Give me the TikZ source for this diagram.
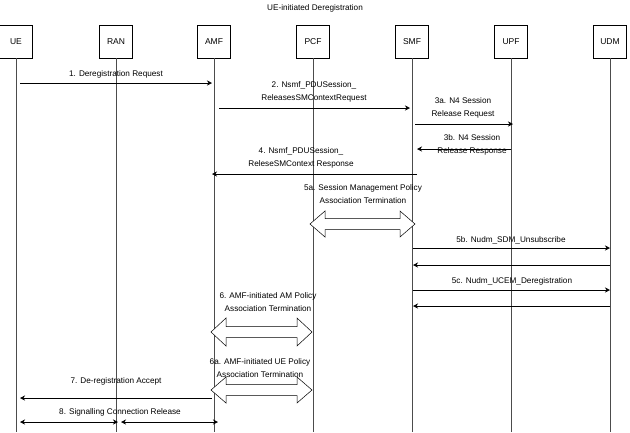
\documentclass[tikz,border=0pt]{standalone}
\usepackage{fontspec}
\setmainfont{Liberation Sans}
\usetikzlibrary{arrows.meta}
\begin{document}
\begin{tikzpicture}[x=1pt,y=-1pt,
  ent/.style={draw, minimum width=33pt, minimum height=33pt, inner sep=0, font=\fontsize{8.5}{10}\selectfont},
  life/.style={draw=black!70, line width=0.5pt},
  msg/.style={-{Stealth[length=5pt,width=5pt]}, line width=0.5pt},
  dbl/.style={{Stealth[length=5pt,width=5pt]}-{Stealth[length=5pt,width=5pt]}, line width=0.5pt},
  lbl/.style={font=\fontsize{8.2}{12.5}\selectfont, align=center, inner sep=0},
  blk/.style={draw, fill=white, line width=0.5pt}]
\useasboundingbox (0,0) rectangle (630,432);
\node[lbl] (title) at (315,8) {UE-initiated Deregistration};
\foreach \n/\x in {UE/16,RAN/116,AMF/214,PCF/313,SMF/412,UPF/511,UDM/610}{
  \node[ent] (\n) at (\x,41.5) {\n};
  \coordinate (\n b) at (\x,432);
  \draw[life] (\n) -- (\n b);
}
% 1
\coordinate (a1s) at (20,83); \coordinate (a1e) at (212,83);
\draw[msg] (a1s) -- (a1e);
\node[lbl] (l1) at (116,74) {1. Deregistration Request};
% 2
\coordinate (a2s) at (219,108); \coordinate (a2e) at (410,108);
\draw[msg] (a2s) -- (a2e);
\node[lbl] (l2) at (314,92) {2. Nsmf\_PDUSession\_\\ReleasesSMContextRequest};
% 3a
\coordinate (a3s) at (415,124); \coordinate (a3e) at (513,124);
\draw[msg] (a3s) -- (a3e);
\node[lbl] (l3) at (463,108) {3a. N4 Session\\Release Request};
% 3b
\coordinate (a3bs) at (511,149); \coordinate (a3be) at (417,149);
\draw[msg] (a3bs) -- (a3be);
\node[lbl] (l3b) at (472,145) {3b. N4 Session\\Release Response};
% 4
\coordinate (a4s) at (417,174); \coordinate (a4e) at (212,174);
\draw[msg] (a4s) -- (a4e);
\node[lbl] (l4) at (301,158) {4. Nsmf\_PDUSession\_\\ReleseSMContext Response};
% 5a
\node[lbl] (l5a) at (363,194) {5a. Session Management Policy\\Association Termination};
\draw[blk] (310,224) -- (325,211) -- (325,218.5) -- (400,218.5) -- (400,211) -- (415,224) -- (400,237) -- (400,229.5) -- (325,229.5) -- (325,237) -- cycle;
% 5b
\coordinate (a5s) at (413,248); \coordinate (a5e) at (610,248);
\draw[msg] (a5s) -- (a5e);
\node[lbl] (l5b) at (511,240) {5b. Nudm\_SDM\_Unsubscribe};
\coordinate (r5s) at (610,265); \coordinate (r5e) at (413,265);
\draw[msg] (r5s) -- (r5e);
% 5c
\coordinate (a5cs) at (413,290); \coordinate (a5ce) at (610,290);
\draw[msg] (a5cs) -- (a5ce);
\node[lbl] (l5c) at (512,281) {5c. Nudm\_UCEM\_Deregistration};
\coordinate (r5cs) at (610,306); \coordinate (r5ce) at (413,306);
\draw[msg] (r5cs) -- (r5ce);
% 6
\node[lbl] (l6) at (268,302) {6. AMF-initiated AM Policy\\Association Termination};
\draw[blk] (211,332) -- (226,318) -- (226,326.5) -- (297,326.5) -- (297,318) -- (312,332) -- (297,346) -- (297,337.5) -- (226,337.5) -- (226,346) -- cycle;
% 6a
\node[lbl] (l6a) at (260,368) {6a. AMF-initiated UE Policy\\Association Termination};
\draw[blk] (211,390) -- (226,377) -- (226,384.5) -- (297,384.5) -- (297,377) -- (312,390) -- (297,403) -- (297,395.5) -- (226,395.5) -- (226,403) -- cycle;
% 7
\coordinate (a7s) at (212,398); \coordinate (a7e) at (20,398);
\draw[msg] (a7s) -- (a7e);
\node[lbl] (l7) at (116,381) {7. De-registration Accept};
% 8
\coordinate (a8a) at (20,422); \coordinate (a8b) at (118,422);
\coordinate (a8c) at (121,422); \coordinate (a8d) at (218,422);
\draw[dbl] (a8a) -- (a8b);
\draw[dbl] (a8c) -- (a8d);
\node[lbl] (l8) at (120,412) {8. Signalling Connection Release};
\end{tikzpicture}
\end{document}
